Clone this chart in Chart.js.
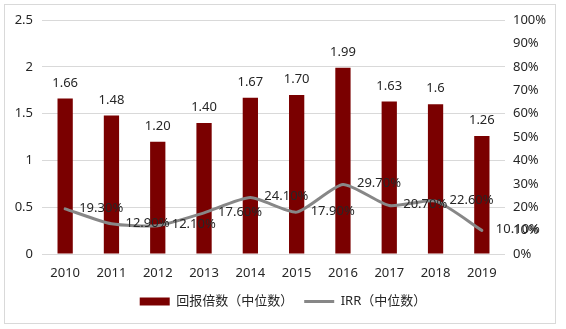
<!DOCTYPE html>
<html>
<head>
<meta charset="utf-8">
<script src="https://cdn.jsdelivr.net/npm/chart.js@4/dist/chart.umd.min.js"></script>
<style>
html,body{margin:0;padding:0;background:#fff;}
#wrap{width:566px;height:329px;position:relative;}
</style>
</head>
<body>
<div id="wrap"><canvas id="c" width="566" height="329"></canvas></div>
<script>
const years = ['2010','2011','2012','2013','2014','2015','2016','2017','2018','2019'];
const multiples = [1.66,1.48,1.20,1.40,1.67,1.70,1.99,1.63,1.6,1.26];
const multipleLabels = ['1.66','1.48','1.20','1.40','1.67','1.70','1.99','1.63','1.6','1.26'];
const irr = [19.3,12.9,12.1,17.6,24.1,17.9,29.7,20.7,22.6,10.1];
const leftTicks = [0,0.5,1,1.5,2,2.5];
const seriesNames = ['回报倍数（中位数）','IRR（中位数）'];

const FONT = '"Noto Sans", "Noto Sans CJK SC", sans-serif';
const TXT = '#262626';

const framePlugin = {
  id:'frame',
  beforeDraw(chart){
    const ctx = chart.ctx;
    ctx.save();
    ctx.fillStyle='#fff';
    ctx.fillRect(0,0,chart.width,chart.height);
    ctx.strokeStyle='#d9d9d9';
    ctx.lineWidth=1;
    ctx.strokeRect(4.5,4.5,551,319);
    ctx.restore();
  }
};

const labelPlugin = {
  id:'vals',
  afterDatasetsDraw(chart){
    const ctx = chart.ctx;
    ctx.save();
    ctx.font = '13px '+FONT;
    ctx.fillStyle = TXT;
    const m0 = chart.getDatasetMeta(0);
    ctx.textAlign='center';
    ctx.textBaseline='bottom';
    m0.data.forEach((el,i)=>{
      ctx.fillText(multipleLabels[i], el.x, el.y-9);
    });
    const m1 = chart.getDatasetMeta(1);
    ctx.textAlign='left';
    ctx.textBaseline='middle';
    m1.data.forEach((el,i)=>{
      ctx.fillText(irr[i].toFixed(2)+'%', el.x+14, el.y-1);
    });
    ctx.restore();
  }
};

new Chart(document.getElementById('c'), {
  data:{
    labels: years,
    datasets:[
      {type:'bar', label:seriesNames[0], data:multiples, backgroundColor:'#7a0000', borderColor:'#7a0000',
       yAxisID:'y', order:2, barPercentage:0.33, categoryPercentage:1},
      {type:'line', label:seriesNames[1], data:irr, borderColor:'#878787', backgroundColor:'#878787',
       borderWidth:3, pointRadius:0, tension:0.2, yAxisID:'y1', order:1, borderCapStyle:'round', borderJoinStyle:'round'}
    ]
  },
  options:{
    responsive:false,
    animation:false,
    layout:{padding:{top:20,bottom:11,left:0,right:0}},
    plugins:{
      legend:{
        position:'bottom',
        labels:{
          usePointStyle:true,
          pointStyleWidth:30,
          boxHeight:8,
          padding:11,
          color:TXT,
          font:{family:FONT,size:13},
          generateLabels(chart){
            return chart.data.datasets.map((ds,i)=>({
              text: ds.label,
              fillStyle: ds.backgroundColor,
              strokeStyle: ds.borderColor,
              lineWidth: i===0?0:3,
              pointStyle: i===0?'rect':'line',
              hidden:false,
              datasetIndex:i,
              fontColor:TXT
            }));
          }
        }
      },
      tooltip:{enabled:false}
    },
    scales:{
      x:{
        grid:{display:false},
        border:{display:false},
        ticks:{color:TXT,font:{family:FONT,size:13},padding:3},
        afterFit(s){s.height=30;}
      },
      y:{
        position:'left',
        min:0,max:2.5,
        afterBuildTicks(s){s.ticks = leftTicks.map(v=>({value:v}));},
        grid:{color:'#d9d9d9',drawTicks:false},
        border:{display:false},
        ticks:{color:TXT,font:{family:FONT,size:13},padding:9,callback:v=>String(v)},
        afterFit(s){s.width=42;}
      },
      y1:{
        position:'right',
        min:0,max:100,
        grid:{display:false,drawTicks:false},
        border:{display:false},
        ticks:{stepSize:10,color:TXT,font:{family:FONT,size:13},padding:8,callback:v=>v+'%'},
        afterFit(s){s.width=61;}
      }
    }
  },
  plugins:[framePlugin,labelPlugin]
});
</script>
</body>
</html>
